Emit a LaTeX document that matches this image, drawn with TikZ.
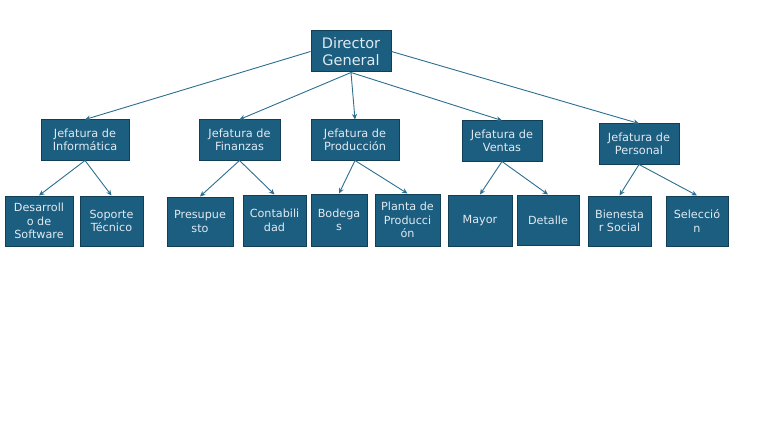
\documentclass[tikz,border=0pt]{standalone}
\usepackage{fontspec}
\setmainfont{DejaVu Sans}
\usetikzlibrary{arrows.meta}
\definecolor{boxfill}{HTML}{1B5E80}
\definecolor{boxline}{HTML}{123F56}
\definecolor{boxtext}{HTML}{E2EAF1}
\definecolor{linkcol}{HTML}{2B6E8F}
\tikzset{
  box/.style={draw=boxline, fill=boxfill, line width=1pt, text=boxtext, align=center, inner sep=0pt},
  topbox/.style={box, font=\fontsize{14.5}{16.5}\selectfont},
  midbox/.style={box, font=\fontsize{11.3}{13}\selectfont},
  leafbox/.style={box, font=\fontsize{11.2}{13.5}\selectfont},
  link/.style={draw=linkcol, line width=0.9pt, -{Stealth[length=5.5pt,width=5pt]}}
}
\begin{document}
\begin{tikzpicture}[x=1pt,y=-1pt]
\useasboundingbox (0,0) rectangle (768,433);
% top
\node[topbox, minimum width=80, minimum height=41] (dg) at (351,51.5) {Director\\General};
% level 2
\node[midbox, minimum width=88, minimum height=40] (inf) at (85,140) {Jefatura de\\Informática};
\node[midbox, minimum width=81, minimum height=40] (fin) at (239.5,140) {Jefatura de\\Finanzas};
\node[midbox, minimum width=88, minimum height=40] (pro) at (355,140) {Jefatura de\\Producción};
\node[midbox, minimum width=80, minimum height=40] (ven) at (502,141) {Jefatura de\\Ventas};
\node[midbox, minimum width=80, minimum height=40] (per) at (639,144) {Jefatura de\\Personal};
% level 3
\node[leafbox, minimum width=68, minimum height=50] (des) at (39,221) {Desarroll\\o de\\Software};
\node[leafbox, minimum width=63, minimum height=50] (sop) at (111.5,221) {Soporte\\Técnico};
\node[leafbox, minimum width=66, minimum height=49] (pre) at (200,221.5) {Presupue\\sto};
\node[leafbox, minimum width=63, minimum height=51] (con) at (274.5,220.5) {Contabili\\dad};
\node[leafbox, minimum width=56, minimum height=52] (bod) at (339,220) {Bodega\\s};
\node[leafbox, minimum width=65, minimum height=52] (pla) at (407.5,220) {Planta de\\Producci\\ón};
\node[leafbox, minimum width=64, minimum height=51] (may) at (480,220.5) {Mayor};
\node[leafbox, minimum width=62, minimum height=50] (det) at (548,220) {Detalle};
\node[leafbox, minimum width=63, minimum height=50] (bie) at (619.5,221) {Bienesta\\r Social};
\node[leafbox, minimum width=62, minimum height=50] (sel) at (697,221) {Selecció\\n};
% links
\draw[link] (dg.west) -- (inf.north);
\draw[link] (dg.south) -- (fin.north);
\draw[link] (dg.south) -- (pro.north);
\draw[link] (dg.south) -- (ven.north);
\draw[link] (dg.east) -- (per.north);
\draw[link] (inf.south) -- (des.north);
\draw[link] (inf.south) -- (sop.north);
\draw[link] (fin.south) -- (pre.north);
\draw[link] (fin.south) -- (con.north);
\draw[link] (pro.south) -- (bod.north);
\draw[link] (pro.south) -- (pla.north);
\draw[link] (ven.south) -- (may.north);
\draw[link] (ven.south) -- (det.north);
\draw[link] (per.south) -- (bie.north);
\draw[link] (per.south) -- (sel.north);
\end{tikzpicture}
\end{document}
